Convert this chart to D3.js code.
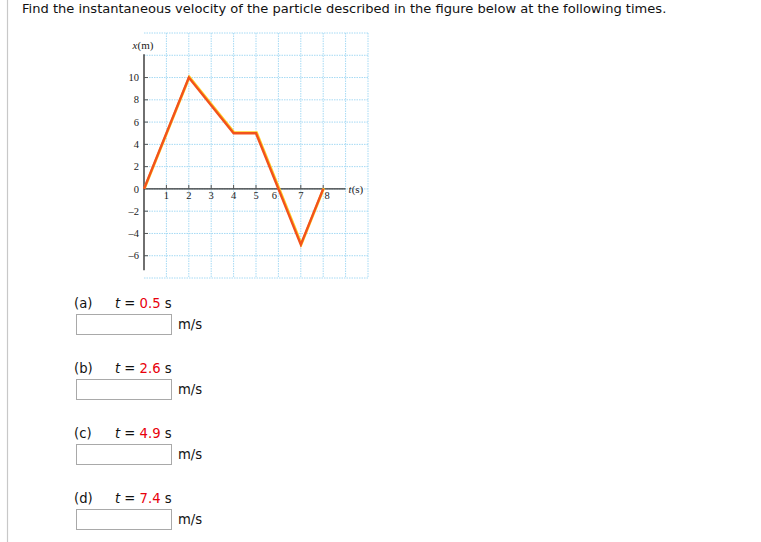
<!DOCTYPE html>
<html>
<head>
<meta charset="utf-8">
<script src="https://cdn.jsdelivr.net/npm/d3@7"></script>
<style>
  body { margin: 0; background: #fff; }
  svg { display: block; }
</style>
</head>
<body>
<div id="page"></div>
<script>
// data
const times = [0, 2, 4, 5, 6, 7, 8];
const positions = [0, 10, 5, 5, 0, -5, 0];
const xTicks = [1, 2, 3, 4, 5, 6, 7, 8];
const yTicks = [-6, -4, -2, 0, 2, 4, 6, 8, 10];
const parts = ["(a)", "(b)", "(c)", "(d)"];
const askTimes = ["0.5", "2.6", "4.9", "7.4"];
const title = "Find the instantaneous velocity of the particle described in the figure below at the following times.";

const W = 761, H = 542;
const svg = d3.select("#page").append("svg").attr("width", W).attr("height", H);

// left page border
svg.append("line").attr("x1", 7.5).attr("x2", 7.5).attr("y1", 0).attr("y2", H)
  .attr("stroke", "#c8c8c8").attr("stroke-width", 1.2);

svg.append("text").attr("x", 22).attr("y", 12.5)
  .attr("font-family", "DejaVu Sans, Verdana, sans-serif").attr("font-size", 13.05)
  .attr("fill", "#111").text(title);

// chart
const x = d3.scaleLinear().domain([0, 10]).range([144, 368]);
const y = d3.scaleLinear().domain([-8, 14]).range([278, 33]);
const serif = "'Liberation Serif', 'DejaVu Serif', serif";
const chart = svg.append("g");

const grid = chart.append("g").attr("stroke", "#a6daf4").attr("stroke-width", 1)
  .attr("stroke-dasharray", "1.5,1").attr("fill", "none");
grid.selectAll("line.v").data(d3.range(1, 11)).join("line")
  .attr("x1", d => x(d)).attr("x2", d => x(d)).attr("y1", y(14)).attr("y2", y(-8));
grid.selectAll("line.h").data(d3.range(-8, 15, 2)).join("line")
  .attr("x1", x(0)).attr("x2", x(10)).attr("y1", d => y(d)).attr("y2", d => y(d));

// axes
chart.append("line").attr("x1", x(0)).attr("x2", x(0)).attr("y1", y(12.1)).attr("y2", y(-7.3))
  .attr("stroke", "#333").attr("stroke-width", 1.4);
chart.append("line").attr("x1", x(0)).attr("x2", x(9)).attr("y1", y(0)).attr("y2", y(0))
  .attr("stroke", "#333").attr("stroke-width", 1.4);

chart.selectAll("line.xt").data(xTicks).join("line")
  .attr("x1", d => x(d)).attr("x2", d => x(d)).attr("y1", y(0)).attr("y2", y(0) - 4)
  .attr("stroke", "#555").attr("stroke-width", 1);
chart.selectAll("line.yt").data(yTicks.filter(d => d !== 0)).join("line")
  .attr("x1", x(0)).attr("x2", x(0) + 4).attr("y1", d => y(d)).attr("y2", d => y(d))
  .attr("stroke", "#555").attr("stroke-width", 1);

chart.selectAll("text.xl").data(xTicks).join("text")
  .attr("x", d => x(d) + (d === 6 ? -4 : d === 8 ? 4 : 0)).attr("y", y(0) + 10)
  .attr("text-anchor", "middle").attr("font-family", serif).attr("font-size", 10.5)
  .attr("fill", "#222").text(d => d);
chart.selectAll("text.yl").data(yTicks).join("text")
  .attr("x", x(0) - 5).attr("y", d => y(d)).attr("dy", "0.35em")
  .attr("text-anchor", "end").attr("font-family", serif).attr("font-size", 10.5)
  .attr("fill", "#222").text(d => d < 0 ? "\u2013" + Math.abs(d) : d);

const xl = chart.append("text").attr("x", x(0) - 1).attr("y", 49).attr("text-anchor", "middle")
  .attr("font-family", serif).attr("font-size", 11).attr("fill", "#222");
xl.append("tspan").attr("font-style", "italic").text("x");
xl.append("tspan").text("(m)");
const tl = chart.append("text").attr("x", x(9) + 3).attr("y", y(0) + 4)
  .attr("font-family", serif).attr("font-size", 11).attr("fill", "#222");
tl.append("tspan").attr("font-style", "italic").text("t");
tl.append("tspan").text("(s)");

const line = d3.line().x((d, i) => x(times[i])).y(d => y(d));
chart.append("path").datum(positions).attr("d", line).attr("fill", "none")
  .attr("stroke", "#ffcc22").attr("stroke-width", 2.6).attr("transform", "translate(0.6,-0.6)");
chart.append("path").datum(positions).attr("d", line).attr("fill", "none")
  .attr("stroke", "#f2521c").attr("stroke-width", 2.4).attr("stroke-linejoin", "miter");

// questions
const sans = "DejaVu Sans, Verdana, sans-serif";
const fs = 13.2;
const q = svg.selectAll("g.q").data(parts).join("g")
  .attr("transform", (d, i) => `translate(0,${i * 65})`);
q.append("text").attr("x", 74).attr("y", 308).attr("font-family", sans).attr("font-size", fs)
  .attr("fill", "#111").text(d => d);
q.each(function(d, i) {
  const t = d3.select(this).append("text").attr("x", 115).attr("y", 308)
    .attr("font-family", sans).attr("font-size", fs).attr("fill", "#111");
  t.append("tspan").attr("font-style", "italic").text("t");
  t.append("tspan").text(" = ");
  t.append("tspan").attr("fill", "#e8000b").text(askTimes[i]);
  t.append("tspan").text(" s");
});
q.append("rect").attr("x", 76.5).attr("y", 314.5).attr("width", 95).attr("height", 20)
  .attr("fill", "#fff").attr("stroke", "#a9a9a9").attr("stroke-width", 1);
q.append("text").attr("x", 178).attr("y", 329).attr("font-family", sans).attr("font-size", fs)
  .attr("fill", "#111").text("m/s");
</script>
</body>
</html>
